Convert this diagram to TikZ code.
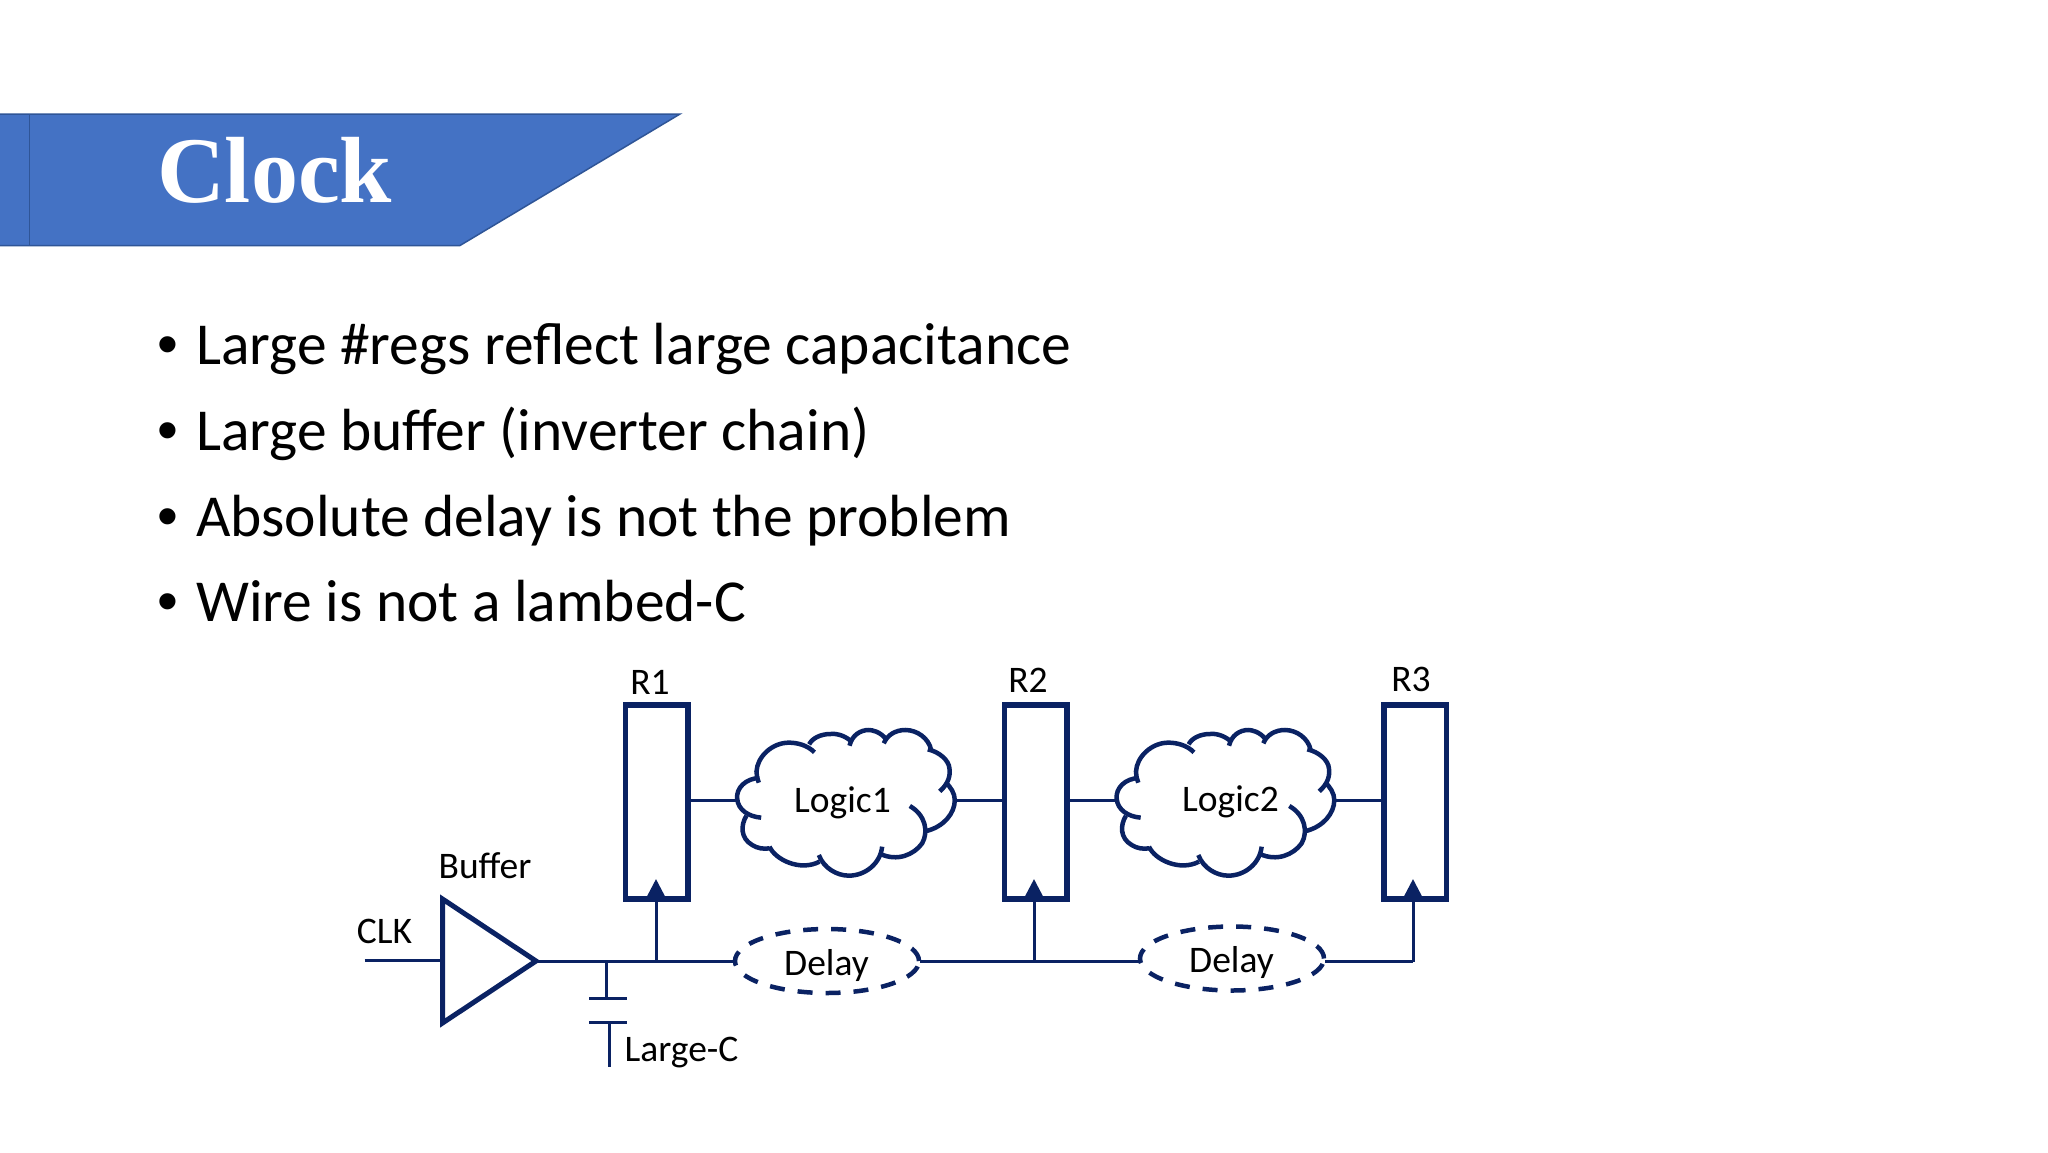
\documentclass[tikz,border=0pt]{standalone}
\usepackage{fontspec}
\setmainfont{Carlito}
\newfontfamily\titlefont{Liberation Serif}
\newfontfamily\dotfont{Liberation Sans}
\usetikzlibrary{shapes.geometric,arrows.meta}
\definecolor{navy}{HTML}{0A2263}
\definecolor{banner}{HTML}{4472C4}
\definecolor{bannerline}{HTML}{2F5597}
\tikzset{
  wire/.style={draw=navy,line width=3pt},
  thick wire/.style={draw=navy,line width=5pt,line join=miter},
  regbox/.style={draw=navy,line width=5.5pt,minimum width=62.5pt,minimum height=194pt,inner sep=0pt,outer sep=0pt},
  delaybox/.style={ellipse,draw=navy,line width=4.5pt,dash pattern=on 15pt off 13pt,minimum width=184pt,minimum height=64pt,inner sep=0pt,outer sep=0pt,font=\fontsize{37.5pt}{40pt}\selectfont,text=black},
  lbl/.style={inner sep=0pt,font=\fontsize{37.5pt}{40pt}\selectfont,text=black},
  bullet/.style={anchor=base west,inner sep=0pt,font=\fontsize{59.5pt}{64pt}\selectfont,text=black},
  tap/.style={wire,-{Triangle[length=20pt,width=20pt]}},
  puff/.style={draw=navy,line width=4.5pt,line cap=butt}
}
\newcommand{\cloudshape}{%
  \draw[puff] (417,384) .. controls (375,385) and (347,415) .. (350,445) .. controls (352,480) and (385,500) .. (422,503);
  \draw[puff] (378,497) .. controls (360,525) and (360,565) .. (395,585) .. controls (410,595) and (430,598) .. (447,595);
  \draw[puff] (447,590) .. controls (465,630) and (540,665) .. (597,635);
  \draw[puff] (595,615) .. controls (610,655) and (650,677) .. (685,677) .. controls (735,677) and (780,640) .. (785,590);
  \draw[puff] (780,612) .. controls (830,635) and (880,615) .. (905,580) .. controls (925,545) and (915,495) .. (868,468);
  \draw[puff] (918,543) .. controls (970,530) and (1003,490) .. (1003,450) .. controls (1003,430) and (990,410) .. (975,397);
  \draw[puff] (958,424) .. controls (985,400) and (990,375) .. (987,355) .. controls (985,330) and (955,305) .. (922,298);
  \draw[puff] (932,300) .. controls (925,265) and (890,240) .. (855,240) .. controls (825,240) and (800,255) .. (790,280);
  \draw[puff] (797,268) .. controls (780,245) and (755,240) .. (745,240) .. controls (720,240) and (695,255) .. (687,287);
  \draw[puff] (690,272) .. controls (670,255) and (645,250) .. (630,252) .. controls (600,252) and (575,265) .. (566,283);
  \draw[puff] (582,307) .. controls (560,285) and (530,278) .. (505,278) .. controls (455,278) and (410,320) .. (408,365) .. controls (408,375) and (410,385) .. (415,398);
}
\begin{document}
\begin{tikzpicture}[x=1pt,y=-1pt]
\useasboundingbox (0,0) rectangle (2048,1152);
\fill[white] (0,0) rectangle (2048,1152);
% banner
\draw[fill=banner,draw=bannerline,line width=1.5pt] (-5,114) -- (680,114) -- (460,245.5) -- (-5,245.5) -- cycle;
\draw[bannerline,line width=1.5pt] (29.5,114) -- (29.5,245.5);
\node[anchor=base,inner sep=0pt,text=white,font=\titlefont\bfseries\fontsize{94pt}{100pt}\selectfont] (title) at (274.5,202) {Clock};
% bullets
\node[bullet] (b1) at (157,364.3) {\makebox[39pt][l]{\dotfont •}Large \#regs reflect large capacitance};
\node[bullet] (b2) at (157,450.3) {\makebox[39pt][l]{\dotfont •}Large buffer (inverter chain)};
\node[bullet] (b3) at (157,536.3) {\makebox[39pt][l]{\dotfont •}Absolute delay is not the problem};
\node[bullet] (b4) at (157,621.3) {\makebox[39pt][l]{\dotfont •}Wire is not a lambed-C};
% registers
\node[regbox] (R1) at (656.5,802) {};
\node[regbox] (R2) at (1035.5,802) {};
\node[regbox] (R3) at (1415,802) {};
\node[lbl] (R1l) at (650,682) {R1};
\node[lbl] (R2l) at (1028,680) {R2};
\node[lbl] (R3l) at (1411,679) {R3};
% clouds
\begin{scope}[shift={(620.5,650)},x=0.3333pt,y=-0.3333pt]
  \cloudshape
  \coordinate (c1w) at (350,453);
  \coordinate (c1e) at (1004,453);
\end{scope}
\begin{scope}[shift={(1000,650)},x=0.3333pt,y=-0.3333pt]
  \cloudshape
  \coordinate (c2w) at (350,453);
  \coordinate (c2e) at (1004,453);
\end{scope}
\node[lbl] (L1) at (842.5,802.5) {Logic1};
\node[lbl] (L2) at (1230.5,801.5) {Logic2};
\draw[wire] (R1.east |- c1w) -- (c1w);
\draw[wire] (c1e) -- (R2.west |- c1e);
\draw[wire] (R2.east |- c2w) -- (c2w);
\draw[wire] (c2e) -- (R3.west |- c2e);
% buffer
\coordinate (bufTop) at (442.5,899);
\coordinate (bufBot) at (442.5,1023);
\coordinate (bufOut) at (536,961);
\coordinate (bufIn) at (442.5,960);
\coordinate (clkIn) at (364.5,960);
\draw[thick wire] (bufTop) -- (bufOut) -- (bufBot) -- cycle;
\draw[wire] (clkIn) -- (bufIn);
\node[lbl] (clk) at (384.6,931) {CLK};
\node[lbl] (buflbl) at (485,866) {Buffer};
% delays
\node[delaybox,text depth=0pt] (D1) at (827,961) {\hspace{-1pt}\raisebox{-2pt}{Delay}};
\node[delaybox,text depth=0pt] (D2) at (1232,958.5) {\hspace{-1pt}\raisebox{-2pt}{Delay}};
% clock wires
\coordinate (capTop) at (606,961);
\coordinate (capP1) at (606,998);
\coordinate (j1) at (656,961);
\coordinate (j2) at (1034,961.5);
\coordinate (j3) at (1413,961.5);
\coordinate (tip1) at (656,879);
\coordinate (tip2) at (1034,879);
\coordinate (tip3) at (1413,879);
\coordinate (d2out) at (1325,961.5);
\coordinate (d2in) at (1140,961.5);
\coordinate (d1out) at (920,961.5);
\draw[wire] (bufOut) -- (D1.west);
\draw[wire] (d1out) -- (d2in);
\draw[wire] (d2out) -- (j3);
\draw[tap] (j1) -- (tip1);
\draw[tap] (j2) -- (tip2);
\draw[tap] (j3) -- (tip3);
% capacitor
\coordinate (plateAl) at (589,998);
\coordinate (plateAr) at (627,998);
\coordinate (plateBl) at (589,1022);
\coordinate (plateBr) at (627,1022);
\coordinate (capS) at (609.6,1022);
\coordinate (capE) at (609.6,1067);
\draw[wire] (capTop) -- (capP1);
\draw[wire] (plateAl) -- (plateAr);
\draw[wire] (plateBl) -- (plateBr);
\draw[wire] (capS) -- (capE);
\node[lbl] (lc) at (681.5,1053) {Large-C};
\end{tikzpicture}
\end{document}
